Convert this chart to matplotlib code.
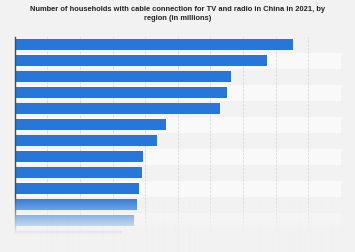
import numpy as np
import matplotlib
matplotlib.use("Agg")
import matplotlib.pyplot as plt

# Data (region labels are hidden in the reference)
regions = [f"Region {i}" for i in range(1, 14)]
values = [17.1, 15.5, 13.3, 13.0, 12.6, 9.3, 8.7, 7.9, 7.8, 7.6, 7.5, 7.3, 6.6]
x_ticks = list(range(0, 21, 2))
title = ("Number of households with cable connection for TV and radio in China in 2021, by\n"
         "region (in millions)")

BG = "#f2f2f2"
BAND = "#f9f9f9"
BAR = "#2776d9"

W, H = 355, 253
fig = plt.figure(figsize=(W / 100, H / 100), dpi=100, facecolor=BG)

left, right, top, bottom = 14.7, 340.7, 37.5, 245.5
ax = fig.add_axes([left / W, 1 - bottom / H, (right - left) / W, (bottom - top) / H])
ax.set_facecolor(BG)

n = len(regions)
for i in range(n):
    if i % 2 == 1:
        ax.axhspan(i - 0.5, i + 0.5, color=BAND, zorder=0, lw=0)

ax.barh(regions, values, height=0.69, color=BAR, zorder=3)
ax.set_ylim(n - 0.5, -0.5)
ax.set_xlim(x_ticks[0], x_ticks[-1])
ax.set_xticks(x_ticks)
ax.grid(axis="x", color="#d8d8d8", lw=0.6, ls=(0, (3, 1.5)), zorder=1)
ax.tick_params(left=False, bottom=False, labelleft=False, labelbottom=False)
for s in ["top", "right", "bottom"]:
    ax.spines[s].set_visible(False)
ax.spines["left"].set_color("#4a4a4a")
ax.spines["left"].set_linewidth(1.0)
ax.spines["left"].set_zorder(4)

fig.text(0.5, 1 - 14.0 / H, title, ha="center", va="center", fontsize=5.4,
         fontweight="bold", family="Liberation Sans", color="#222222", linespacing=1.45)

# fade-out overlay at the bottom
ov = fig.add_axes([0, 0, 1, 1], zorder=10)
ov.set_axis_off()
ys = np.arange(H)
alpha = np.clip((ys - 197) / 38.0, 0, 1)
rgba = np.zeros((H, 1, 4))
rgba[:, 0, :3] = np.array([0xf2, 0xf2, 0xf2]) / 255
rgba[:, 0, 3] = alpha
ov.imshow(rgba, extent=[0, 1, 0, 1], aspect="auto", interpolation="bilinear")
ov.set_xlim(0, 1)
ov.set_ylim(0, 1)

fig.savefig("out.png", dpi=100, facecolor=BG)
